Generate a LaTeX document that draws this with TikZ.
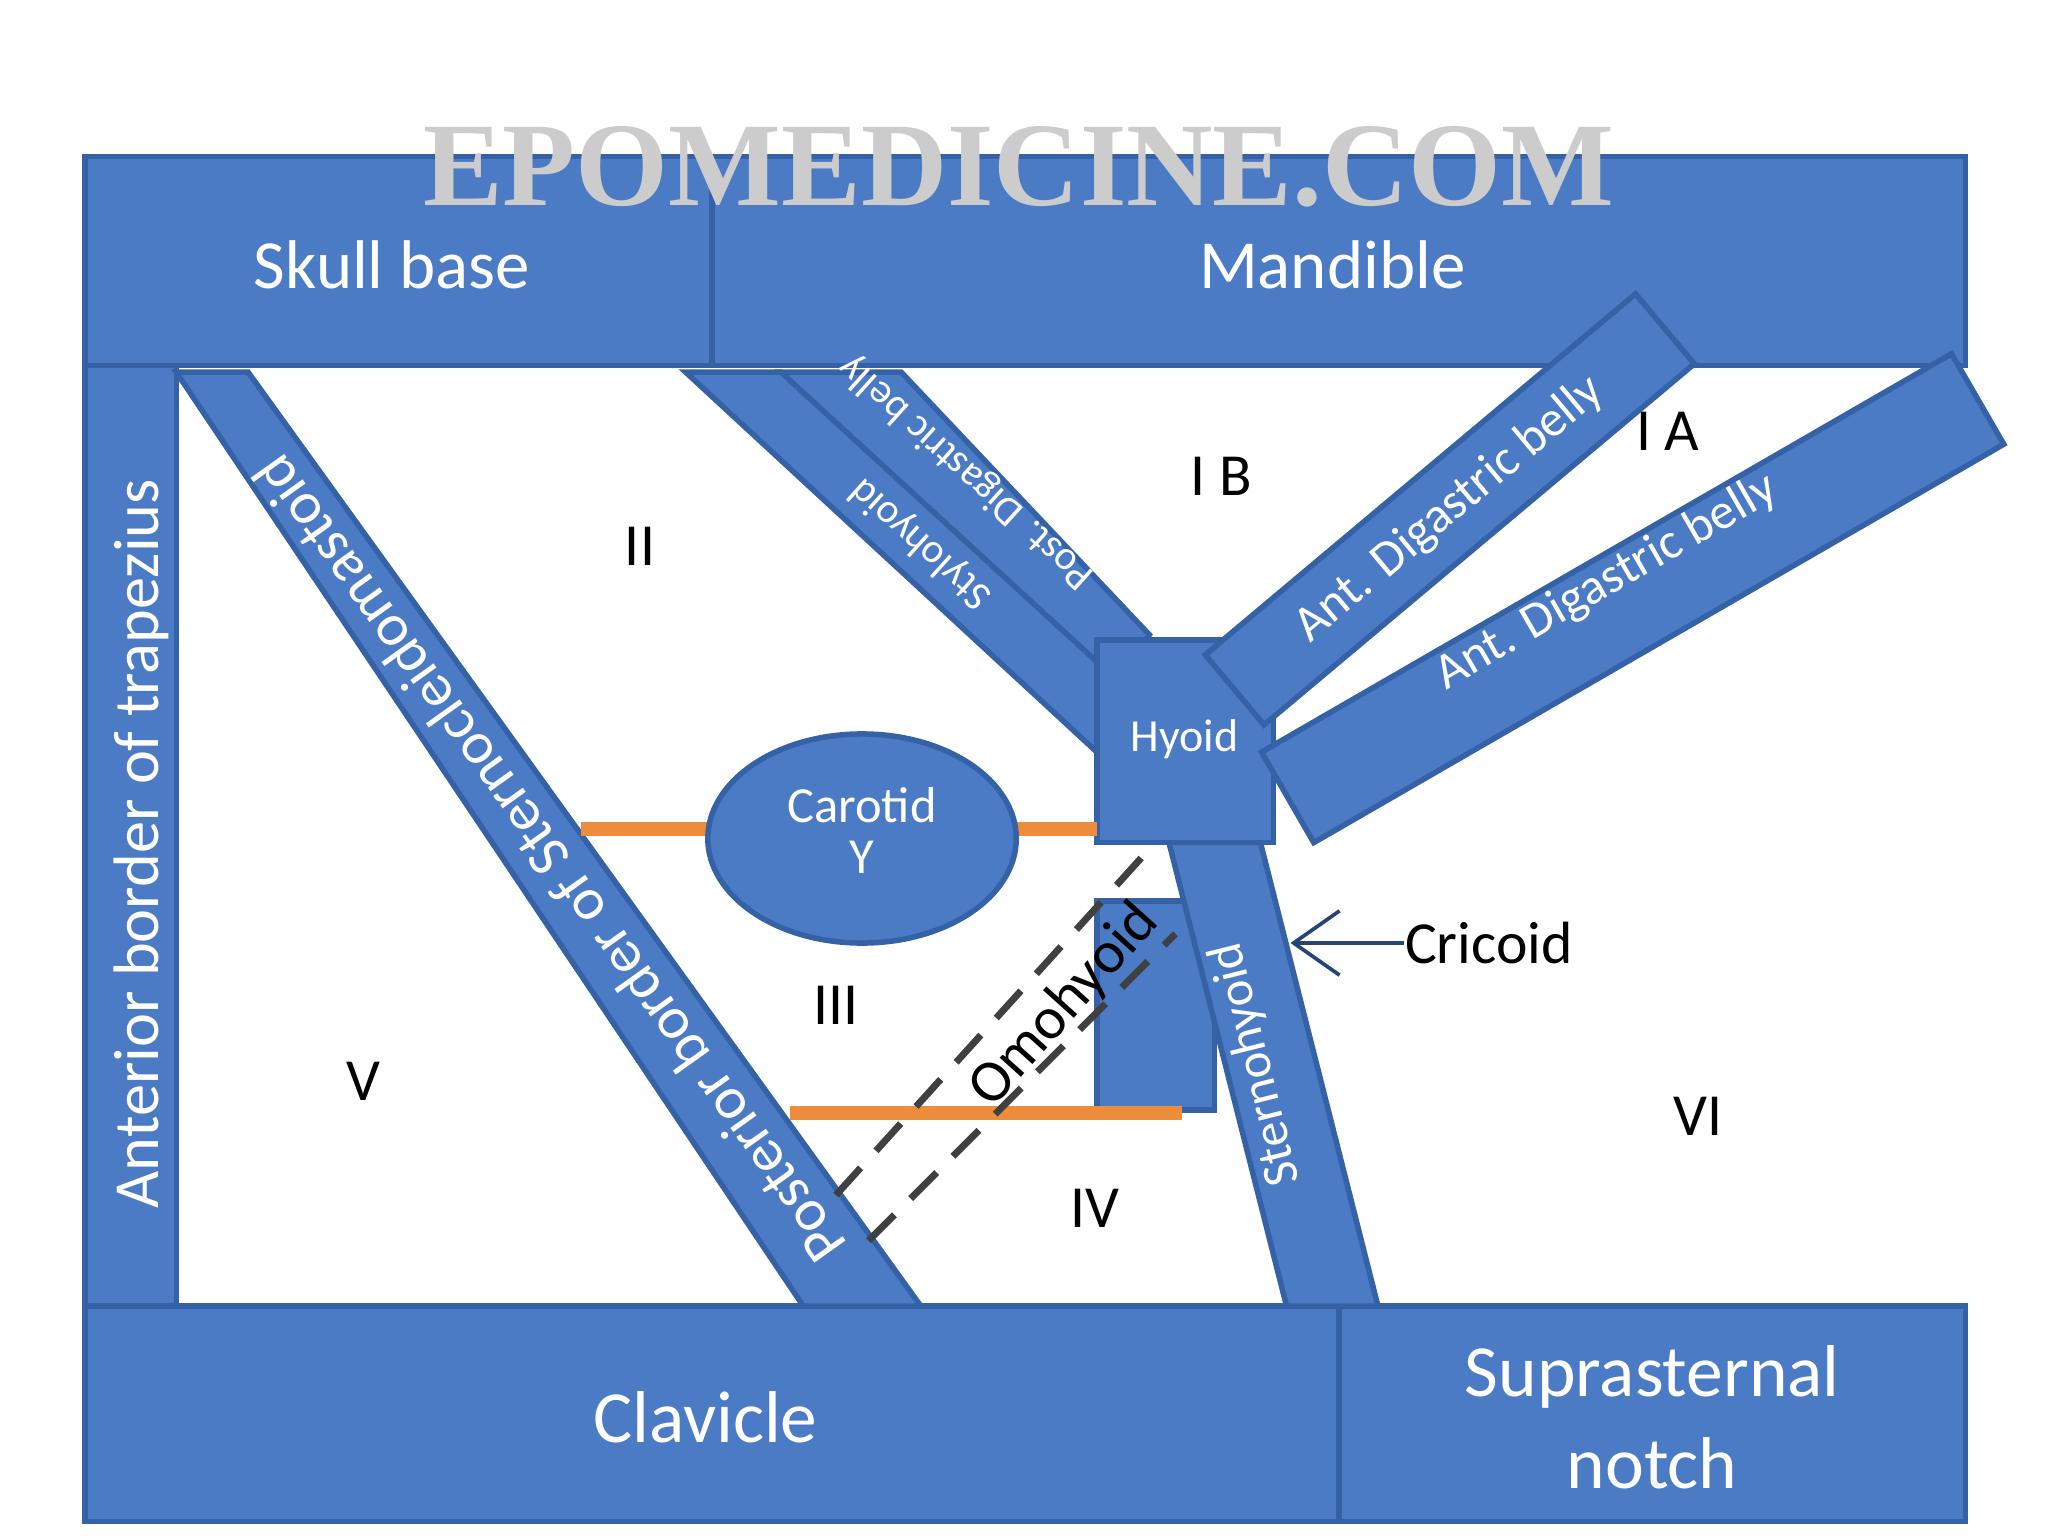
\documentclass[tikz,border=0pt]{standalone}
\usetikzlibrary{shapes.geometric,arrows.meta}
\usepackage{fontspec}
\setmainfont{Carlito}
\newfontfamily\wmfont{Liberation Serif}
\definecolor{bl}{HTML}{4A7BC4}
\definecolor{bd}{HTML}{3562A6}
\definecolor{org}{HTML}{ED8C3A}
\begin{document}
\begin{tikzpicture}[x=0.01cm,y=0.01cm,
  part/.style={fill=bl,draw=bd,line width=1.2pt},
  wt/.style={text=white,font=\fontsize{#1}{#1}\selectfont,inner sep=0pt},
  wt/.default=13,
  lvl/.style={font=\fontsize{13}{13}\selectfont,inner sep=0pt},
  orl/.style={org,line width=3pt},
  dsh/.style={draw=black!75,line width=1.5pt,dash pattern=on 8pt off 5pt}]
\useasboundingbox (0,0) rectangle (1568,1176);
% bars
\draw[part] (65,1056) rectangle (545,896);
\draw[part] (545,1056) rectangle (1505,896);
\draw[part] (65,176) rectangle (1025,11);
\draw[part] (1025,176) rectangle (1505,11);
\draw[part] (65,896) rectangle (135,176);
% bands
\draw[part] (135,891) -- (190,891) -- (705,176) -- (615,176) -- cycle;
\draw[part] (598,891) -- (690,891) -- (880,690) -- (845,640) -- cycle;
\draw[part] (525,891) -- (598,891) -- (850,660) -- (840,600) -- cycle;
\draw[part] (840,486) rectangle (930,326);
\draw[part] (895,531) -- (965,531) -- (1055,176) -- (985,176) -- cycle;
\draw[part] (840,686) rectangle (975,531);
\draw[part,rotate around={30:(1250,718)}] (945,678) rectangle (1555,758);
\draw[part,rotate around={40:(1110,786)}] (895,751) rectangle (1325,821);
% carotid & orange lines
\draw[orl] (445,541) -- (545,541);
\draw[orl] (775,541) -- (840,541);
\draw[orl] (605,324) -- (905,324);
\node[part,ellipse,minimum width=2.36cm,minimum height=1.6cm,inner sep=0pt] (car) at (660,534) {};
\node[wt=11,align=center] at (660,540) {Carotid\\Y};
% omohyoid
\coordinate (o1) at (640,261); \coordinate (o2) at (880,526);
\coordinate (o3) at (665,226); \coordinate (o4) at (900,461);
\draw[dsh] (o1) -- (o2);
\draw[dsh] (o3) -- (o4);
\node[lvl,rotate=48] at (815,406) {Omohyoid};
% cricoid
\node[lvl,anchor=west] (cri) at (1075,454) {Cricoid};
\coordinate (cp) at (988,454);
\draw[-{Straight Barb[length=10pt,width=14pt]},draw=bd!70!black,line width=0.8pt] (cri.west) -- (cp);
% texts
\node[wt=15] at (300,973) {Skull base};
\node[wt=15] at (1020,973) {Mandible};
\node[wt=16] at (540,91) {Clavicle};
\node[wt=16,align=center] at (1265,91) {Suprasternal\\[4pt]notch};
\node[wt=14,rotate=90] at (108,530) {Anterior border of trapezius};
\node[wt=13,rotate=125.5] at (420,518) {Posterior border of Sternocleidomastoid};
\node[wt=9,rotate=138] at (705,760) {Stylohyoid};
\node[wt=9,rotate=138] at (740,815) {Post. Digastric belly};
\node[wt=10] at (907,610) {Hyoid};
\node[wt=11,rotate=40] at (1110,786) {Ant. Digastric belly};
\node[wt=11,rotate=30] at (1230,730) {Ant. Digastric belly};
\node[wt=11,rotate=104] at (962,361) {Sternohyoid};
% levels
\node[lvl] at (490,758) {II};
\node[lvl] at (935,811) {I B};
\node[lvl] at (1277,846) {I A};
\node[lvl] at (640,406) {III};
\node[lvl] at (278,348) {V};
\node[lvl] at (838,251) {IV};
\node[lvl] at (1300,321) {VI};
% watermark
\node[text=gray!40,font=\wmfont\bfseries\fontsize{26}{26}\selectfont,inner sep=0pt] at (780,1048) {EPOMEDICINE.COM};
\end{tikzpicture}
\end{document}
